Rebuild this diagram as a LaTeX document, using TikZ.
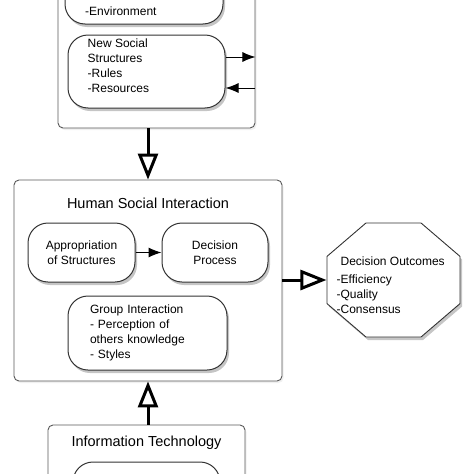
\documentclass[tikz,border=0pt]{standalone}
\usepackage{fontspec}
\setmainfont{Liberation Sans}
\usepackage{tikz}
\usetikzlibrary{arrows.meta,positioning,calc,shadows,shapes.geometric}
\tikzset{
  >={Latex[length=13pt,width=10pt]},
  frame/.style={draw=black!65, line width=0.9pt, rounded corners=5pt, fill=white,
    drop shadow={opacity=0.12, shadow xshift=1.5pt, shadow yshift=-2pt}},
  pill/.style={draw=black!80, line width=1pt, rounded corners=20pt, fill=white,
    drop shadow={opacity=0.45, shadow xshift=2pt, shadow yshift=-3pt},
    font=\fontsize{12}{15}\selectfont, align=center, inner sep=0pt},
  octo/.style={draw=black!80, line width=0.9pt, regular polygon, regular polygon sides=8,
    inner sep=0pt, fill=white, transform shape,
    drop shadow={opacity=0.45, shadow xshift=2pt, shadow yshift=-3pt}},
  body/.style={font=\fontsize{12}{15}\selectfont, align=left, inner sep=0pt},
  title/.style={font=\fontsize{14.5}{17}\selectfont, inner sep=0pt},
  conn/.style={->, line width=1pt},
  flow/.style={-{Triangle[open,length=26pt,width=20pt]}, line width=3pt},
}

\begin{document}
\begin{tikzpicture}[x=1pt, y=-1pt]
  \clip (0,0) rectangle (474,474);
  % sources of structures (cut at the top)
  \node[frame, minimum width=197pt, minimum height=170pt] (src) at (156.5,43) {};
  \node[pill, minimum width=158pt, minimum height=90pt] (tech) at (144,-21) {};
  \node[body, anchor=west] (env) at (85,11) {-Environment};
  \node[pill, minimum width=157pt, minimum height=73pt] (nss) at (146.5,71.5) {};
  \node[body, anchor=west] (nsstext) at ([xshift=20pt,yshift=6pt]nss.west)
    {New Social\\Structures\\-Rules\\-Resources};
  \coordinate (nssout) at ([yshift=14.5pt]nss.east);
  \coordinate (nssin) at ([yshift=-16.5pt]nss.east);
  \draw[conn] (nssout) -- (nssout -| src.east);
  \draw[conn] (nssin -| src.east) -- (nssin);

  % human social interaction
  \node[frame, minimum width=268pt, minimum height=201pt] (hsi) at (148,280.5) {};
  \node[title, below=18pt of hsi.north] (hsititle) {Human Social Interaction};
  \node[pill, minimum width=107pt, minimum height=59pt] (approp) at (81.5,252.5)
    {Appropriation\\of Structures};
  \node[pill, minimum width=106pt, minimum height=59pt] (process) at (215,252.5)
    {Decision\\Process};
  \node[pill, align=left, text width=115pt, inner xsep=22pt, minimum height=74pt] (group) at (147.5,333)
    {Group Interaction\\- Perception of\\others knowledge\\- Styles};
  \draw[conn] (approp) -- (process);

  % decision outcomes
  \node[octo, minimum size=123.4pt, xscale=1.1667] (outcomes) at (393.5,280) {};
  \node[body, anchor=west] (outtext) at ([xshift=10pt,yshift=-5pt]outcomes.west)
    {\hspace*{4pt}Decision Outcomes\\[3pt]-Efficiency\\-Quality\\-Consensus};

  % information technology (cut at the bottom)
  \node[frame, minimum width=197pt, minimum height=100pt] (it) at (146.5,475) {};
  \node[title, below=11.5pt of it.north] (ittitle) {Information Technology};
  \node[pill, minimum width=147pt, minimum height=60pt] (itbox) at (146.5,492) {};

  \draw[flow] (src.south -| hsi.north) -- (hsi.north);
  \draw[flow] (hsi.east |- outcomes.west) -- (outcomes.west);
  \draw[flow] (it.north -| hsi.south) -- (hsi.south);
\end{tikzpicture}
\end{document}
